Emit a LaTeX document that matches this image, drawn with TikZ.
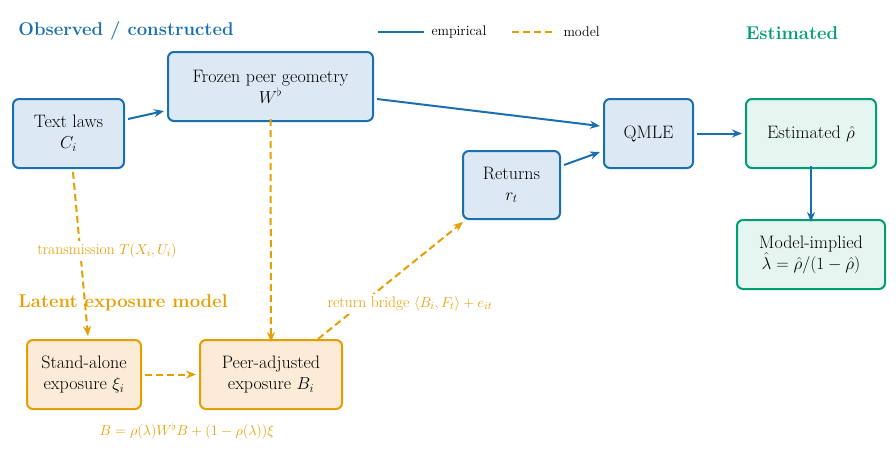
\documentclass[tikz,border=0pt]{standalone}
\usepackage{fontspec}
\usepackage{amsmath}
\usetikzlibrary{arrows.meta}
\definecolor{cb}{HTML}{1A6FAF}\definecolor{fb}{HTML}{DCE9F5}
\definecolor{co}{HTML}{E69F00}\definecolor{fo}{HTML}{FCEBD6}
\definecolor{cg}{HTML}{009E73}\definecolor{fg}{HTML}{E5F6F1}
\begin{document}
\begin{tikzpicture}[x=1pt,y=-1pt,
 box/.style={draw,line width=2pt,rounded corners=6pt,minimum height=69pt,align=center,font=\fontsize{18}{21}\selectfont,inner sep=2pt},
 bb/.style={box,draw=cb,fill=fb},ob/.style={box,draw=co,fill=fo},gb/.style={box,draw=cg,fill=fg},
 ea/.style={draw=cb,line width=2pt,-{Stealth[length=10pt,width=8pt]}},
 ma/.style={draw=co,line width=2pt,dash pattern=on 7pt off 4pt,-{Stealth[length=10pt,width=8pt]}},
 lab/.style={text=co,font=\fontsize{15.5}{18}\selectfont,fill=white,inner sep=3pt}]
\useasboundingbox (0,0) rectangle (896,456);
\node[bb,minimum width=111pt] (tl) at (68.5,133.5) {Text laws\\$C_i$};
\node[bb,minimum width=205pt] (fr) at (270.5,86.5) {Frozen peer geometry\\$W^\flat$};
\node[bb,minimum width=89pt] (q) at (648.5,133.5) {QMLE};
\node[gb,minimum width=130pt] (es) at (811,133.5) {Estimated $\hat\rho$};
\node[bb,minimum width=97pt,minimum height=68pt] (r) at (511.5,185) {Returns\\$r_t$};
\node[gb,minimum width=148pt] (mi) at (811,254.5) {Model-implied\\$\hat\lambda=\hat\rho/(1-\hat\rho)$};
\node[ob,minimum width=114pt] (sa) at (84,374.5) {Stand-alone\\exposure $\xi_i$};
\node[ob,minimum width=142pt] (pa) at (271,374.5) {Peer-adjusted\\exposure $B_i$};
\draw[ea] ([xshift=3pt]tl.east|-0,119) -- ([xshift=-3pt]fr.west|-0,111);
\draw[ea] ([xshift=3pt]fr.east|-0,99) -- ([xshift=-3pt]q.west|-0,126);
\draw[ea] ([xshift=3pt]r.east|-0,165) -- ([xshift=-3pt]q.west|-0,152);
\draw[ea] ([xshift=3pt]q.east) -- ([xshift=-3pt]es.west);
\draw[ea] ([yshift=3pt]es.south) -- ([yshift=-3pt]mi.north);
\draw[ma] (73,172) -- (88,336);
\draw[ma] ([yshift=3pt]fr.south) -- ([yshift=-3pt]pa.north);
\draw[ma] ([xshift=3pt]sa.east) -- ([xshift=-3pt]pa.west);
\draw[ma] (318,339) -- (463,222);
\node[lab] at (107,251) {transmission $T(X_i,U_i)$};
\node[lab] at (410,304) {return bridge $\langle B_i,F_t\rangle+e_{it}$};
\node[text=co,font=\fontsize{15.5}{18}\selectfont] at (187,431) {$B=\rho(\lambda)W^\flat B+(1-\rho(\lambda))\xi$};
\node[text=cb,font=\bfseries\fontsize{18.5}{22}\selectfont] at (126,31) {Observed / constructed};
\node[text=co,font=\bfseries\fontsize{18.5}{22}\selectfont] at (123,303) {Latent exposure model};
\node[text=cg,font=\bfseries\fontsize{18.5}{22}\selectfont] at (792,33) {Estimated};
\draw[cb,line width=2.2pt] (378,32) -- (424,32);
\node[anchor=west,font=\fontsize{14}{16}\selectfont] at (428,32) {empirical};
\draw[co,line width=2.2pt,dash pattern=on 7pt off 4pt] (512,32) -- (556,32);
\node[anchor=west,font=\fontsize{14}{16}\selectfont] at (560,32) {model};
\end{tikzpicture}
\end{document}
